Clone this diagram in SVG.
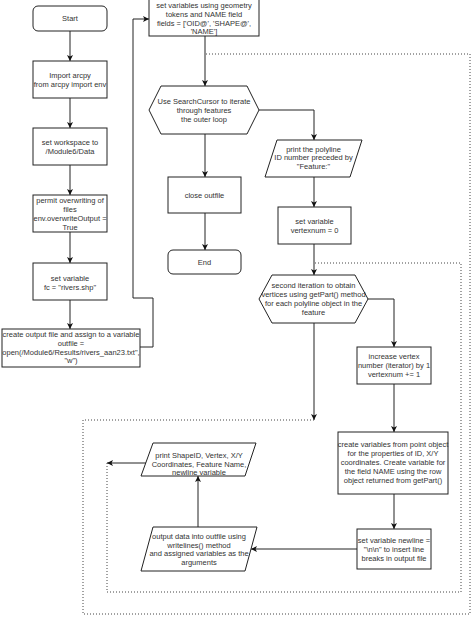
<svg xmlns="http://www.w3.org/2000/svg" width="474" height="617" viewBox="0 0 474 617">
<style>
.n{fill:#fff;stroke:#222;stroke-width:1}
.t{font-family:"Liberation Sans",Arial,sans-serif;font-size:7.5px;fill:#333;text-anchor:middle}
.c{fill:none;stroke:#222;stroke-width:1}
.d{fill:none;stroke:#444;stroke-width:1;stroke-dasharray:1 2}
</style>
<defs>
<marker id="a" viewBox="0 0 10 10" refX="10" refY="5" markerWidth="6" markerHeight="6" orient="auto" markerUnits="userSpaceOnUse">
<path d="M0,0 L10,5 L0,10 L2.5,5 Z" fill="#111"/>
</marker>
</defs>
<rect width="474" height="617" fill="#fff"/>
<g id="connectors">
<path class="c" d="M70,31 V61" marker-end="url(#a)"/>
<path class="c" d="M70,98 V128" marker-end="url(#a)"/>
<path class="c" d="M70,165 V195" marker-end="url(#a)"/>
<path class="c" d="M70,232 V263" marker-end="url(#a)"/>
<path class="c" d="M70,300 V329" marker-end="url(#a)"/>
<path class="c" d="M140,347 H153 V298 H133 V19 H149" marker-end="url(#a)"/>
<path class="c" d="M205,36 V86" marker-end="url(#a)"/>
<path class="c" d="M259,110 H314 V140" marker-end="url(#a)"/>
<path class="c" d="M205,134 V177" marker-end="url(#a)"/>
<path class="c" d="M205,213 V250" marker-end="url(#a)"/>
<path class="c" d="M314,177 V207" marker-end="url(#a)"/>
<path class="c" d="M314,244 V275" marker-end="url(#a)"/>
<path class="c" d="M368,299 H394 V347" marker-end="url(#a)"/>
<path class="c" d="M314,323 V420" marker-end="url(#a)"/>
<path class="c" d="M394,384 V432" marker-end="url(#a)"/>
<path class="c" d="M394,494 V529" marker-end="url(#a)"/>
<path class="c" d="M357,549 H251" marker-end="url(#a)"/>
<path class="c" d="M198,527 V476" marker-end="url(#a)"/>
<path class="c" d="M146,463 H107" marker-end="url(#a)"/>
<path class="d" d="M314,420 H83 V614 H470 V54 H205"/>
<path class="d" d="M107,463 V592 H461 V263 H314"/>
</g>
<g id="start"><rect class="n" x="33" y="6" width="74" height="25" rx="5"/><text class="t" x="70" y="21.2">Start</text></g>
<g id="import"><rect class="n" x="33" y="61" width="74" height="37"/><text class="t" x="70" y="77.7">Import arcpy</text><text class="t" x="70" y="86.7">from arcpy import env</text></g>
<g id="workspace"><rect class="n" x="33" y="128" width="74" height="37"/><text class="t" x="70" y="144.7">set workspace to</text><text class="t" x="70" y="153.7">/Module6/Data</text></g>
<g id="permit"><rect class="n" x="33" y="195" width="74" height="37"/><text class="t" x="70" y="202.7">permit overwriting of</text><text class="t" x="70" y="211.7">files</text><text class="t" x="70" y="220.7">env.overwriteOutput =</text><text class="t" x="70" y="229.7">True</text></g>
<g id="fc"><rect class="n" x="33" y="263" width="74" height="37"/><text class="t" x="70" y="280.7">set variable</text><text class="t" x="70" y="289.7">fc = "rivers.shp"</text></g>
<g id="outfile"><rect class="n" x="2" y="329" width="138" height="38"/><text class="t" x="71" y="337.2">create output file and assign to a variable</text><text class="t" x="71" y="346">outfile =</text><text class="t" x="71" y="354.7">open(/Module6/Results/rivers_aan23.txt",</text><text class="t" x="71" y="363.4">"w")</text></g>
<g id="fields"><rect class="n" x="149" y="-1" width="110" height="37"/><text class="t" x="204" y="8.2">set variables using geometry</text><text class="t" x="204" y="16.9">tokens and NAME field</text><text class="t" x="204" y="25.7">fields = ['OID@', 'SHAPE@',</text><text class="t" x="204" y="34.4">'NAME']</text></g>
<g id="cursor"><polygon class="n" points="149,110 161,86 247,86 259,110 247,134 161,134"/><text class="t" x="204" y="104.2">Use SearchCursor to iterate</text><text class="t" x="204" y="113">through features</text><text class="t" x="204" y="121.7">the outer loop</text></g>
<g id="printid"><polygon class="n" points="277,140 362,140 350,177 265,177"/><text class="t" x="313.5" y="151.7">print the polyline</text><text class="t" x="313.5" y="160.2">ID number preceded by</text><text class="t" x="313.5" y="168.7">"Feature:"</text></g>
<g id="close"><rect class="n" x="168" y="177" width="73" height="36"/><text class="t" x="204.5" y="197.7">close outfile</text></g>
<g id="end"><rect class="n" x="168" y="250" width="73" height="24" rx="5"/><text class="t" x="204.5" y="264.7">End</text></g>
<g id="vertexnum"><rect class="n" x="278" y="207" width="73" height="37"/><text class="t" x="314.5" y="223.7">set variable</text><text class="t" x="314.5" y="232.7">vertexnum = 0</text></g>
<g id="getpart"><polygon class="n" points="259,299 272,275 355,275 368,299 355,323 272,323"/><text class="t" x="313.5" y="287.7">second iteration to obtain</text><text class="t" x="313.5" y="296.7">vertices using getPart() method</text><text class="t" x="313.5" y="305.7">for each polyline object in the</text><text class="t" x="313.5" y="314.7">feature</text></g>
<g id="increase"><rect class="n" x="357" y="347" width="74" height="37"/><text class="t" x="394" y="359.4">increase vertex</text><text class="t" x="394" y="368.2">number (iterator) by 1</text><text class="t" x="394" y="376.9">vertexnum += 1</text></g>
<g id="createvars"><rect class="n" x="338" y="432" width="110" height="62"/><text class="t" x="393" y="447.2">create variables from point object</text><text class="t" x="393" y="456.2">for the properties of ID, X/Y</text><text class="t" x="393" y="465.2">coordinates. Create variable for</text><text class="t" x="393" y="474.2">the field NAME using the row</text><text class="t" x="393" y="483.2">object returned from getPart()</text></g>
<g id="newline"><rect class="n" x="357" y="529" width="74" height="40"/><text class="t" x="394" y="543.2">set variable newline =</text><text class="t" x="394" y="552.2">"\n\n" to insert line</text><text class="t" x="394" y="561.2">breaks in output file</text></g>
<g id="output"><polygon class="n" points="153,527 257,527 245,571 141,571"/><text class="t" x="199" y="539.4">output data into outfile using</text><text class="t" x="199" y="547.7">writelines() method</text><text class="t" x="199" y="556.2">and assigned variables as the</text><text class="t" x="199" y="564.7">arguments</text></g>
<g id="printshape"><polygon class="n" points="153,443 256,443 245,476 141,476"/><text class="t" x="199" y="457.7">print ShapeID, Vertex, X/Y</text><text class="t" x="199" y="466.5">Coordinates, Feature Name,</text><text class="t" x="199" y="475.3">newline variable</text></g>
</svg>
